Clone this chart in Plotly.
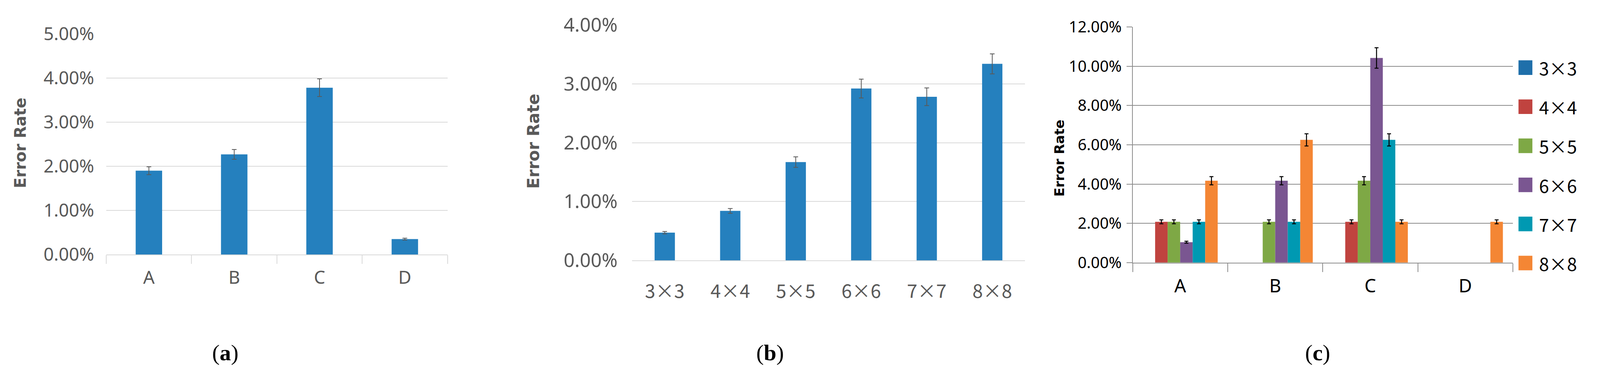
import plotly.graph_objects as go

# (a) error rate per scheme
schemes = ["A", "B", "C", "D"]
rate_a = [0.0190, 0.0227, 0.0378, 0.0035]
err_a = [0.0009, 0.0011, 0.0020, 0.0002]

# (b) error rate per grid size
sizes = ["3×3", "4×4", "5×5", "6×6", "7×7", "8×8"]
rate_b = [0.0047, 0.0084, 0.0167, 0.0292, 0.0278, 0.0334]
err_b = [0.0002, 0.0004, 0.0009, 0.0016, 0.0015, 0.0017]

# (c) error rate per scheme and grid size (None = no bar)
rate_3 = [None, None, None, None]
rate_4 = [0.0208, None, 0.0208, None]
rate_5 = [0.0208, 0.0208, 0.0417, None]
rate_6 = [0.0104, 0.0417, 0.1042, None]
rate_7 = [0.0208, 0.0208, 0.0625, None]
rate_8 = [0.0417, 0.0625, 0.0208, 0.0208]
err_3 = [None, None, None, None]
err_4 = [0.0010, None, 0.0010, None]
err_5 = [0.0010, 0.0010, 0.0021, None]
err_6 = [0.0005, 0.0021, 0.0052, None]
err_7 = [0.0010, 0.0010, 0.0031, None]
err_8 = [0.0021, 0.0031, 0.0010, 0.0010]

blue = "#2580BE"
size_colors = ["#1F6FAA", "#C0433F", "#7EA845", "#7A5691", "#0099B2", "#F48634"]
grey_text = "#595959"
light_grid = "#D9D9D9"
dark_grid = "#8C8C8C"

# layout was measured on a 4250x971 picture; the page shown is a bit narrower,
# so everything is placed as a fraction of that picture
REF_W, REF_H = 4250, 971
W, H = 4080, 955


def fx(px):
    return px / REF_W


def fy(px):
    return 1 - px / REF_H


fig = go.Figure()

fig.add_trace(go.Bar(x=schemes, y=rate_a, width=0.31, marker_color=blue, marker_line_width=0,
                     error_y=dict(type="data", array=err_a, color=grey_text, thickness=2, width=6),
                     xaxis="x", yaxis="y", showlegend=False))

fig.add_trace(go.Bar(x=sizes, y=rate_b, width=0.31, marker_color=blue, marker_line_width=0,
                     error_y=dict(type="data", array=err_b, color=grey_text, thickness=2, width=6),
                     xaxis="x2", yaxis="y2", showlegend=False))

rates_c = [rate_3, rate_4, rate_5, rate_6, rate_7, rate_8]
errs_c = [err_3, err_4, err_5, err_6, err_7, err_8]
for name, vals, errs, col in zip(sizes, rates_c, errs_c, size_colors):
    fig.add_trace(go.Bar(x=schemes, y=vals, name=name, marker_color=col, marker_line_width=0,
                         error_y=dict(type="data", array=errs, color="black", thickness=2.5, width=5),
                         xaxis="x3", yaxis="y3", showlegend=False))

tick_font = dict(family="Noto Sans", size=46, color=grey_text)
size_font = "Noto Sans CJK JP"

fig.update_layout(
    width=W, height=H,
    margin=dict(l=0, r=0, t=0, b=0, autoexpand=False),
    paper_bgcolor="white", plot_bgcolor="white",
    barmode="group", bargap=0.21, bargroupgap=0,
    xaxis=dict(domain=[fx(275), fx(1185)], anchor="y", type="category", automargin=False,
               showline=True, linecolor=light_grid, linewidth=2,
               ticks="outside", tickson="boundaries", ticklen=22, tickcolor=light_grid, tickwidth=2,
               showgrid=False, tickfont=tick_font, ticklabelstandoff=18),
    yaxis=dict(domain=[fy(655), fy(80)], anchor="x", range=[0, 0.05], dtick=0.01,
               automargin=False, tickformat=".2%", showgrid=True, gridcolor=light_grid, gridwidth=2,
               zeroline=False, showline=False, tickfont=tick_font, ticklabelstandoff=30),
    xaxis2=dict(domain=[fx(1677), fx(2725)], anchor="y2", type="category", automargin=False,
                showline=True, linecolor=light_grid, linewidth=2, ticks="",
                showgrid=False, tickfont=dict(family=size_font, size=48, color=grey_text),
                ticklabelstandoff=36),
    yaxis2=dict(domain=[fy(670), fy(57)], anchor="x2", range=[0, 0.04], dtick=0.01,
                automargin=False, tickformat=".2%", showgrid=True, gridcolor=light_grid, gridwidth=2,
                zeroline=False, showline=False,
                tickfont=dict(family="Noto Sans", size=49, color=grey_text), ticklabelstandoff=36),
    xaxis3=dict(domain=[fx(3012), fx(4026)], anchor="y3", type="category", automargin=False,
                showline=True, linecolor=dark_grid, linewidth=2,
                ticks="outside", tickson="boundaries", ticklen=22, tickcolor=dark_grid, tickwidth=2,
                showgrid=False, tickfont=dict(family="Noto Sans", size=47, color="black"),
                ticklabelstandoff=18),
    yaxis3=dict(domain=[fy(676), fy(62)], anchor="x3", range=[0, 0.12], dtick=0.02,
                automargin=False, tickformat=".2%", showgrid=True, gridcolor=dark_grid, gridwidth=2,
                zeroline=False, showline=True, linecolor=dark_grid, linewidth=2,
                ticks="outside", ticklen=14, tickcolor=dark_grid, tickwidth=2,
                tickfont=dict(family="Noto Sans", size=40, color="black"), ticklabelstandoff=4),
)

# axis titles
for x, y, size, col in [(46, 364, 40, grey_text), (1414, 359, 42, grey_text), (2817, 404, 34, "black")]:
    fig.add_annotation(x=fx(x), y=fy(y), xref="paper", yref="paper", text="<b>Error Rate</b>",
                       textangle=-90, showarrow=False, xanchor="center", yanchor="middle",
                       font=dict(family="DejaVu Sans", size=size, color=col))

# panel labels
for x, lab in [(593, "a"), (2045, "b"), (3505, "c")]:
    fig.add_annotation(x=fx(x), y=fy(910), xref="paper", yref="paper", text="(<b>" + lab + "</b>)",
                       showarrow=False, xanchor="center", yanchor="middle",
                       font=dict(family="Liberation Serif", size=58, color="black"))

# legend for (c), drawn at the right of the plot
row_top = 168
row_step = 101.8
for i, (name, col) in enumerate(zip(sizes, size_colors)):
    yc = row_top + i * row_step
    fig.add_shape(type="rect", xref="paper", yref="paper",
                  x0=fx(4041), x1=fx(4078), y0=fy(yc - 19), y1=fy(yc + 19),
                  fillcolor=col, line_width=0)
    fig.add_annotation(x=fx(4094), y=fy(yc), xref="paper", yref="paper", text=name,
                       showarrow=False, xanchor="left", yanchor="middle",
                       font=dict(family=size_font, size=46, color="black"))

fig.write_html("out.html")
